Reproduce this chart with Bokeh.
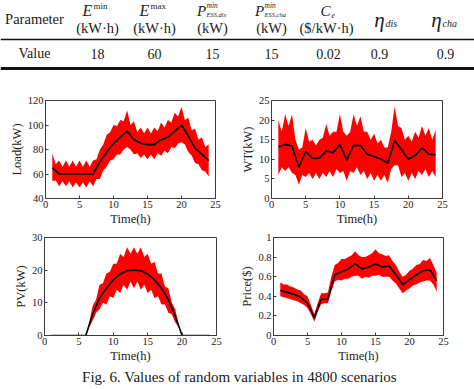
from bokeh.plotting import figure
from bokeh.layouts import column, row
from bokeh.models import Range1d, FixedTicker
from bokeh.embed import file_html
from bokeh.resources import INLINE
from bokeh.core.properties import value

# ---------------- data ----------------
hours = list(range(1, 25))
half_hours = [h + 0.5 for h in range(1, 24)]

load_mean = [65, 60, 60, 60, 60, 60, 60, 70, 78, 85, 90, 95, 88, 85, 84, 84, 88, 90, 95, 100, 91, 81, 76, 71]
load_upper = [77, 71, 71, 71, 71, 71, 71, 80, 92, 100, 104, 112, 103, 98, 98, 98, 102, 104, 110, 115, 106, 97, 90, 84]
load_lower = [54, 50, 50, 49, 49, 49, 50, 56, 66, 72, 76, 82, 76, 73, 72, 72, 75, 77, 81, 86, 78, 69, 63, 58]
load_upper_mid = [68, 66, 66, 66, 66, 66, 72, 84, 94, 99, 103, 100, 94, 93, 93, 95, 98, 102, 107, 104, 96, 88, 82]
load_lower_mid = [55, 54, 54, 53, 53, 54, 56, 63, 71, 76, 80, 80, 77, 76, 76, 77, 79, 82, 85, 84, 75, 68, 62]

wt_mean = [13.2, 13.8, 13.4, 8.0, 12.0, 10.2, 10.3, 12.1, 11.7, 13.8, 9.8, 13.6, 13.5, 11.3, 10.7, 10.0, 9.0, 14.8, 12.5, 10.0, 11.0, 12.9, 11.3, 11.2]
wt_upper = [20.0, 21.5, 21.5, 12.5, 18.0, 15.0, 15.0, 19.0, 17.0, 21.5, 16.0, 21.5, 21.0, 17.0, 16.5, 15.0, 13.0, 23.5, 18.0, 16.0, 17.0, 18.5, 18.0, 17.5]
wt_lower = [6.0, 7.0, 6.5, 3.5, 5.5, 5.0, 5.0, 5.5, 5.5, 6.5, 4.5, 6.5, 6.0, 5.0, 4.5, 4.5, 4.0, 8.5, 5.5, 4.5, 5.0, 6.0, 5.5, 5.5]
wt_upper_mid = [17.0, 18.5, 15.0, 13.0, 14.5, 13.5, 15.5, 16.0, 17.0, 17.0, 17.0, 18.5, 17.0, 15.0, 14.0, 13.0, 17.0, 18.5, 15.0, 14.5, 15.5, 16.0, 15.0]
wt_lower_mid = [8.0, 8.0, 6.0, 6.0, 6.5, 6.5, 6.5, 7.0, 7.5, 7.0, 7.0, 8.0, 7.0, 6.5, 6.0, 6.0, 7.5, 8.5, 6.5, 6.5, 7.0, 7.5, 7.0]

pv_mean = [0, 0, 0, 0, 0, 0, 6.5, 11.5, 14.5, 17, 18.8, 19.8, 20, 19.8, 18.8, 17, 14.5, 11, 6, 0, 0, 0, 0, 0]
pv_upper = [0, 0, 0, 0, 0, 0, 9, 15.5, 19, 22, 25, 27, 27, 27, 25, 22.5, 19, 14.5, 8, 0, 0, 0, 0, 0]
pv_lower = [0, 0, 0, 0, 0, 0, 4.5, 8, 9.5, 11.5, 13, 14, 14.5, 14, 13, 11.5, 9.5, 7, 4, 0, 0, 0, 0, 0]
pv_upper_mid = [0, 0, 0, 0, 0, 4, 11, 16, 19.5, 22, 24, 25, 25, 24, 22, 19, 15, 10, 3.5, 0, 0, 0, 0]
pv_lower_mid = [0, 0, 0, 0, 0, 2.5, 7, 10, 12, 14, 15.5, 16.5, 16.5, 15.5, 14, 12, 9.5, 6.5, 2.5, 0, 0, 0, 0]

price_mean = [0.46, 0.44, 0.42, 0.39, 0.33, 0.18, 0.37, 0.37, 0.62, 0.65, 0.68, 0.73, 0.68, 0.70, 0.73, 0.70, 0.71, 0.62, 0.52, 0.57, 0.62, 0.66, 0.67, 0.56]
price_upper = [0.54, 0.52, 0.49, 0.46, 0.40, 0.22, 0.43, 0.44, 0.72, 0.78, 0.80, 0.86, 0.80, 0.82, 0.88, 0.83, 0.82, 0.72, 0.60, 0.66, 0.72, 0.77, 0.79, 0.64]
price_lower = [0.40, 0.38, 0.36, 0.33, 0.28, 0.14, 0.32, 0.33, 0.55, 0.56, 0.58, 0.61, 0.58, 0.59, 0.61, 0.60, 0.60, 0.53, 0.43, 0.48, 0.52, 0.55, 0.56, 0.45]
price_upper_mid = [0.52, 0.50, 0.47, 0.42, 0.31, 0.33, 0.43, 0.60, 0.74, 0.78, 0.82, 0.82, 0.80, 0.84, 0.84, 0.81, 0.76, 0.65, 0.62, 0.68, 0.73, 0.76, 0.72]
price_lower_mid = [0.39, 0.37, 0.35, 0.31, 0.22, 0.24, 0.33, 0.45, 0.57, 0.58, 0.60, 0.61, 0.60, 0.61, 0.62, 0.60, 0.56, 0.48, 0.46, 0.51, 0.54, 0.56, 0.52]

table_row_label = "Value"
table_values = ["18", "60", "15", "15", "0.02", "0.9", "0.9"]
x_ticks = [0, 5, 10, 15, 20, 25]
caption = "Fig. 6. Values of random variables in 4800 scenarios"

SERIF = "Liberation Serif"
FRAME = "#3a3a3a"
TXT = "#1a1a1a"


def interleave(a, b):
    out = []
    for i in range(len(a)):
        out.append(a[i])
        if i < len(b):
            out.append(b[i])
    return out


x_all = interleave(hours, half_hours)


def style_axis(ax, ticks):
    ax.ticker = FixedTicker(ticks=ticks)
    ax.major_tick_in = 3
    ax.major_tick_out = 0
    ax.minor_tick_line_color = None
    ax.axis_line_color = FRAME
    ax.major_tick_line_color = FRAME
    ax.major_label_text_font = SERIF
    ax.major_label_text_color = TXT
    ax.major_label_text_font_size = "10.5px"
    ax.major_label_standoff = 2
    ax.axis_label_text_font = SERIF
    ax.axis_label_text_font_style = "normal"
    ax.axis_label_text_font_size = "12.5px"
    ax.axis_label_text_color = TXT
    ax.axis_label_standoff = 1


def panel(ylabel, yr, yticks, mean, up, lo, upm, lom, w, h, bl, br, bt, bb, overrides=None):
    p = figure(width=w, height=h, x_range=Range1d(0, 25), y_range=Range1d(*yr),
               output_backend="svg", toolbar_location=None,
               min_border_left=bl, min_border_right=br, min_border_top=bt, min_border_bottom=bb)
    p.grid.visible = False
    p.outline_line_color = FRAME
    p.background_fill_color = "white"
    p.border_fill_color = "white"
    p.varea(x=x_all, y1=interleave(lo, lom), y2=interleave(up, upm), fill_color="#ff0000")
    p.line(hours, mean, line_color="black", line_width=1.6)
    style_axis(p.xaxis[0], x_ticks)
    style_axis(p.yaxis[0], yticks)
    p.xaxis[0].axis_label = "Time(h)"
    p.yaxis[0].axis_label = ylabel
    if overrides:
        p.yaxis[0].major_label_overrides = overrides
    return p


p1 = panel("Load(kW)", (40, 120), [40, 60, 80, 100, 120], load_mean, load_upper, load_lower,
           load_upper_mid, load_lower_mid, 237, 140, 45, 22, 12, 27)
p2 = panel("WT(kW)", (0, 25), [0, 5, 10, 15, 20, 25], wt_mean, wt_upper, wt_lower,
           wt_upper_mid, wt_lower_mid, 237, 140, 29, 32, 12, 27)
p3 = panel("PV(kW)", (0, 30), [0, 10, 20, 30], pv_mean, pv_upper, pv_lower,
           pv_upper_mid, pv_lower_mid, 237, 137, 44, 21, 9, 27)
p4 = panel("Price($)", (0, 1), [0, 0.2, 0.4, 0.6, 0.8, 1], price_mean, price_upper, price_lower,
           price_upper_mid, price_lower_mid, 237, 137, 30, 31, 9, 27, overrides={0: "0", 1: "1"})

# ---------------- table ----------------
t = figure(width=474, height=88, x_range=Range1d(0, 474), y_range=Range1d(88, 0),
           output_backend="svg", toolbar_location=None, min_border=0,
           x_axis_location=None, y_axis_location=None)
t.grid.visible = False
t.outline_line_color = None


def txt(fig, x, y, s, size, style="normal", align="center", baseline="middle"):
    fig.text(x=[x], y=[y], text=[s], text_font=value(SERIF), text_font_size=size,
             text_font_style=style, text_align=align, text_baseline=baseline, text_color=TXT)


txt(t, 34, 18, "Parameter", "14.5px")
# E min / E max
txt(t, 87, 10, "E", "16px", "italic")
txt(t, 93, 5, "min", "9px", "normal", "left")
txt(t, 97, 27, "(kW\u00b7h)", "14.5px")
txt(t, 144, 10, "E", "16px", "italic")
txt(t, 150, 5, "max", "9px", "normal", "left")
txt(t, 154, 27, "(kW\u00b7h)", "14.5px")
# P ESS
txt(t, 201, 10, "P", "15px", "italic")
txt(t, 206, 5, "min", "7.5px", "italic", "left")
txt(t, 206, 14, "ESS,dis", "6.5px", "italic", "left")
txt(t, 212, 27, "(kW)", "14.5px")
txt(t, 259, 10, "P", "15px", "italic")
txt(t, 264, 5, "min", "7.5px", "italic", "left")
txt(t, 264, 14, "ESS,cha", "6.5px", "italic", "left")
txt(t, 271, 27, "(kW)", "14.5px")
# C_e
txt(t, 325, 10, "C", "15px", "italic")
txt(t, 331, 14, "e", "8px", "italic", "left")
txt(t, 326, 27, "($/kW\u00b7h)", "14.5px")
# eta
txt(t, 379, 19, "\u03b7", "21px", "italic")
txt(t, 385, 23, "dis", "10px", "italic", "left")
txt(t, 436, 19, "\u03b7", "21px", "italic")
txt(t, 442, 23, "cha", "10px", "italic", "left")

t.segment(x0=[0], y0=[39], x1=[474], y1=[39], line_color="#111", line_width=1.5)
t.segment(x0=[0], y0=[68], x1=[474], y1=[68], line_color="#111", line_width=3)

value_x = [97, 154, 212, 271, 328, 379, 445]
txt(t, 34, 53, table_row_label, "14px")
t.text(x=value_x, y=[53] * len(value_x), text=table_values, text_font=value(SERIF),
       text_font_size="14px", text_align="center", text_baseline="middle", text_color=TXT)

# ---------------- caption ----------------
cap = figure(width=474, height=24, x_range=Range1d(0, 474), y_range=Range1d(389, 365),
             output_backend="svg", toolbar_location=None, min_border=0,
             x_axis_location=None, y_axis_location=None)
cap.grid.visible = False
cap.outline_line_color = None
txt(cap, 239, 376, caption, "15px")

layout = column(t, row(p1, p2), row(p3, p4), cap)

open("out.html", "w").write(file_html(layout, INLINE))
